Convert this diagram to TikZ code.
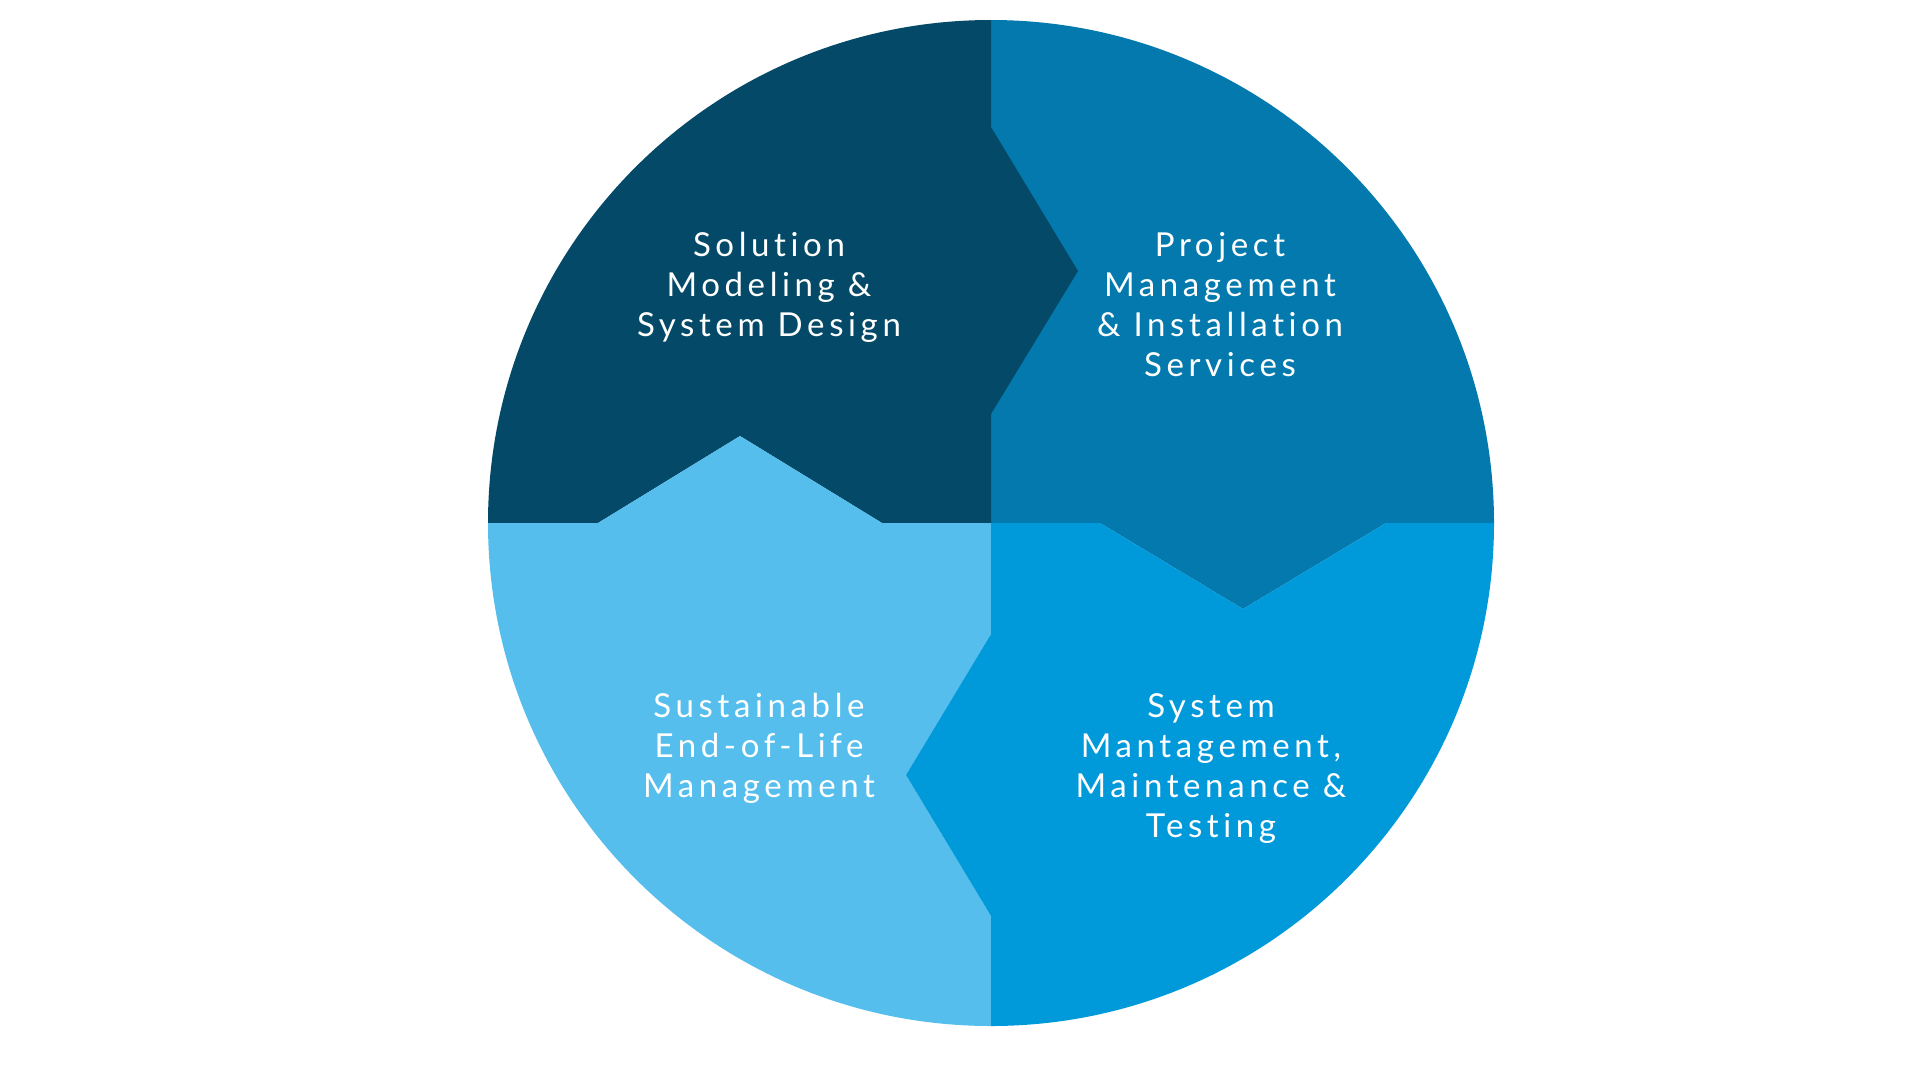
\documentclass[tikz,border=0pt]{standalone}
\usepackage{fontspec}
\setmainfont{Lato}[LetterSpace=14,Ligatures={NoCommon}]
\definecolor{cdark}{HTML}{044A68}
\definecolor{cmid}{HTML}{0379AE}
\definecolor{cbright}{HTML}{0099DA}
\definecolor{clight}{HTML}{55BEEC}
\begin{document}
\begin{tikzpicture}[x=1pt,y=-1pt,
  lbl/.style={text=white, align=center, anchor=base, inner sep=0pt,
    font=\fontsize{33}{40}\selectfont}]
\useasboundingbox (0,0) rectangle (1920,1080);
\begin{scope}
\clip (991,523) circle[radius=503];
% top-right
\fill[cmid] (991,0) -- (1920,0) -- (1920,523) -- (1386,523) -- (1243,609)
  -- (1100,523) -- (991,523) -- cycle;
% top-left
\fill[cdark] (0,0) -- (991,0) -- (991,127) -- (1078,271) -- (991,414)
  -- (991,523) -- (882,523) -- (740,436) -- (598,523) -- (0,523) -- cycle;
% bottom-left
\fill[clight] (0,523) -- (598,523) -- (740,436) -- (882,523) -- (991,523)
  -- (991,634) -- (906,775) -- (991,916) -- (991,1080) -- (0,1080) -- cycle;
% bottom-right
\fill[cbright] (991,523) -- (1100,523) -- (1243,609) -- (1386,523)
  -- (1920,523) -- (1920,1080) -- (991,1080) -- (991,916) -- (906,775)
  -- (991,634) -- cycle;
\end{scope}
% base anchor = baseline of the last line
\node[lbl] (tl) at (769,336) {Solution\\Modeling \&\\System Design};
\node[lbl] (tr) at (1220,376) {Project\\Management\\\& Installation\\Services};
\node[lbl] (bl) at (759,797) {Sustainable\\End-of-Life\\Management};
\node[lbl] (br) at (1211,837) {System\\Mantagement,\\Maintenance \&\\Testing};
\end{tikzpicture}
\end{document}
